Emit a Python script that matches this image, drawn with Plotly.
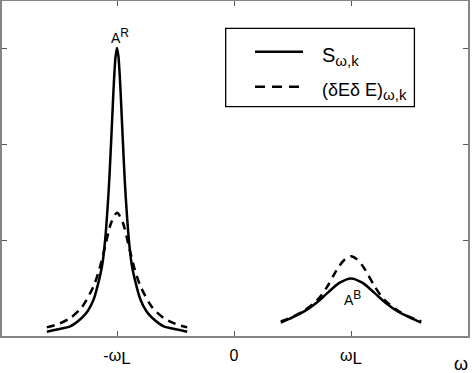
import plotly.graph_objects as go

# Left resonance (around -omega_L)
x_left = [-1.6, -1.5, -1.4, -1.3, -1.25, -1.2, -1.15, -1.125, -1.1, -1.075, -1.065, -1.05, -1.035,
          -1.025, -1.0125, -1.0, -0.9875, -0.975, -0.965, -0.95, -0.935, -0.925, -0.9, -0.875,
          -0.85, -0.8, -0.75, -0.7, -0.6, -0.5, -0.4]
s_left = [0.045, 0.07, 0.10, 0.19, 0.26, 0.38, 0.60, 0.75, 1.02, 1.44, 1.65, 2.03, 2.43,
          2.68, 2.91, 3.0, 2.91, 2.68, 2.43, 2.03, 1.65, 1.44, 1.02, 0.75,
          0.60, 0.38, 0.26, 0.19, 0.10, 0.07, 0.045]
x_left_d = [-1.6, -1.5, -1.4, -1.3, -1.2, -1.15, -1.1, -1.05, -1.0, -0.95, -0.9, -0.85, -0.8,
            -0.7, -0.6, -0.5, -0.4]
d_left = [0.09, 0.126, 0.187, 0.30, 0.52, 0.70, 0.94, 1.18, 1.285, 1.18, 0.94, 0.70, 0.52,
          0.30, 0.187, 0.126, 0.09]

# Right resonance (around +omega_L)
x_right = [0.4, 0.5, 0.6, 0.7, 0.8, 0.9, 1.0, 1.1, 1.2, 1.3, 1.4, 1.5, 1.6]
s_right = [0.14, 0.194, 0.256, 0.342, 0.449, 0.553, 0.60, 0.553, 0.449, 0.342, 0.256, 0.194, 0.14]
x_right_d = [0.4, 0.5, 0.6, 0.7, 0.75, 0.8, 0.85, 0.9, 0.95, 1.0, 1.05, 1.1, 1.15, 1.2, 1.25,
             1.3, 1.4, 1.5, 1.6]
d_right = [0.152, 0.20, 0.265, 0.36, 0.43, 0.52, 0.63, 0.73, 0.80, 0.83, 0.80, 0.73, 0.63, 0.52,
           0.43, 0.36, 0.265, 0.20, 0.152]

SUBL = '<sub><span style="font-size:17px">L</span></sub>'
x_tickvals = [-1, 0, 1]
x_ticktext = ["-ω" + SUBL, "0", "ω" + SUBL]
y_tickvals = [1, 2, 3]

FONT = "Liberation Sans, Arial, Helvetica, sans-serif"
DASH = "8px,6px"
SUBWK = '<sub><span style="font-size:15px">ω,k</span></sub>'

fig = go.Figure()
fig.add_trace(go.Scatter(x=x_left, y=s_left, mode="lines", name="S",
                         line=dict(color="black", width=2.5, shape="spline", smoothing=0.6),
                         showlegend=False))
fig.add_trace(go.Scatter(x=x_left_d, y=d_left, mode="lines", name="dEdE",
                         line=dict(color="black", width=2.5, dash=DASH, shape="spline", smoothing=0.8),
                         showlegend=False))
fig.add_trace(go.Scatter(x=x_right, y=s_right, mode="lines", name="S",
                         line=dict(color="black", width=2.5, shape="spline", smoothing=0.8),
                         showlegend=False))
fig.add_trace(go.Scatter(x=x_right_d, y=d_right, mode="lines", name="dEdE",
                         line=dict(color="black", width=2.5, dash=DASH, shape="spline", smoothing=0.8),
                         showlegend=False))

# Manual legend (paper coordinates)
fig.add_shape(type="rect", xref="paper", yref="paper", x0=0.480, x1=0.885, y0=0.6845, y1=0.9185,
              line=dict(color="black", width=1.3), fillcolor="white", layer="above")
fig.add_shape(type="line", xref="paper", yref="paper", x0=0.543, x1=0.646, y0=0.8487, y1=0.8487,
              line=dict(color="black", width=2.5), layer="above")
fig.add_shape(type="line", xref="paper", yref="paper", x0=0.543, x1=0.643, y0=0.7442, y1=0.7442,
              line=dict(color="black", width=2.5, dash="10px,7px"), layer="above")
fig.add_annotation(xref="paper", yref="paper", x=0.659, y=0.8487, xanchor="left", yanchor="middle",
                   text="S" + SUBWK, showarrow=False, font=dict(size=20, color="black", family=FONT),
                   yshift=-5, xshift=11)
fig.add_annotation(xref="paper", yref="paper", x=0.662, y=0.7442, xanchor="left", yanchor="middle",
                   text="(δEδ E)" + SUBWK, showarrow=False,
                   font=dict(size=18, color="black", family=FONT), yshift=-5, xshift=10)

# Peak labels
fig.add_annotation(x=-1, y=3.13, text='A<sup><span style="font-size:12px">R</span></sup>',
                   showarrow=False, xshift=3, font=dict(size=14, color="black", family=FONT))
fig.add_annotation(x=1, y=0.40, text='A<sup><span style="font-size:12px">B</span></sup>',
                   showarrow=False, xshift=1, font=dict(size=14, color="black", family=FONT))
# x-axis label
fig.add_annotation(xref="paper", yref="paper", x=0.966, y=-0.083, xanchor="left", yanchor="middle",
                   text="ω", showarrow=False, font=dict(size=18, color="black", family=FONT))

axis_common = dict(showline=True, linecolor="#858585", linewidth=1.5, mirror="ticks",
                   ticks="inside", ticklen=5, tickcolor="#555555", tickwidth=1,
                   showgrid=False, zeroline=False, automargin=False)
fig.update_xaxes(range=[-1.983, 2.0], tickvals=x_tickvals, ticktext=x_ticktext,
                 tickfont=dict(size=16, color="black", family=FONT), ticklabelstandoff=4, **axis_common)
fig.update_yaxes(range=[0, 3.49], tickvals=y_tickvals, showticklabels=False, **axis_common)

fig.update_layout(width=474, height=373, margin=dict(l=2, r=6, t=1, b=37),
                  plot_bgcolor="white", paper_bgcolor="white", showlegend=False,
                  font=dict(family=FONT, color="black"))

fig.write_html("out.html", config={"displayModeBar": False},
               post_script="document.body.style.margin='0';document.body.style.overflow='hidden';")
